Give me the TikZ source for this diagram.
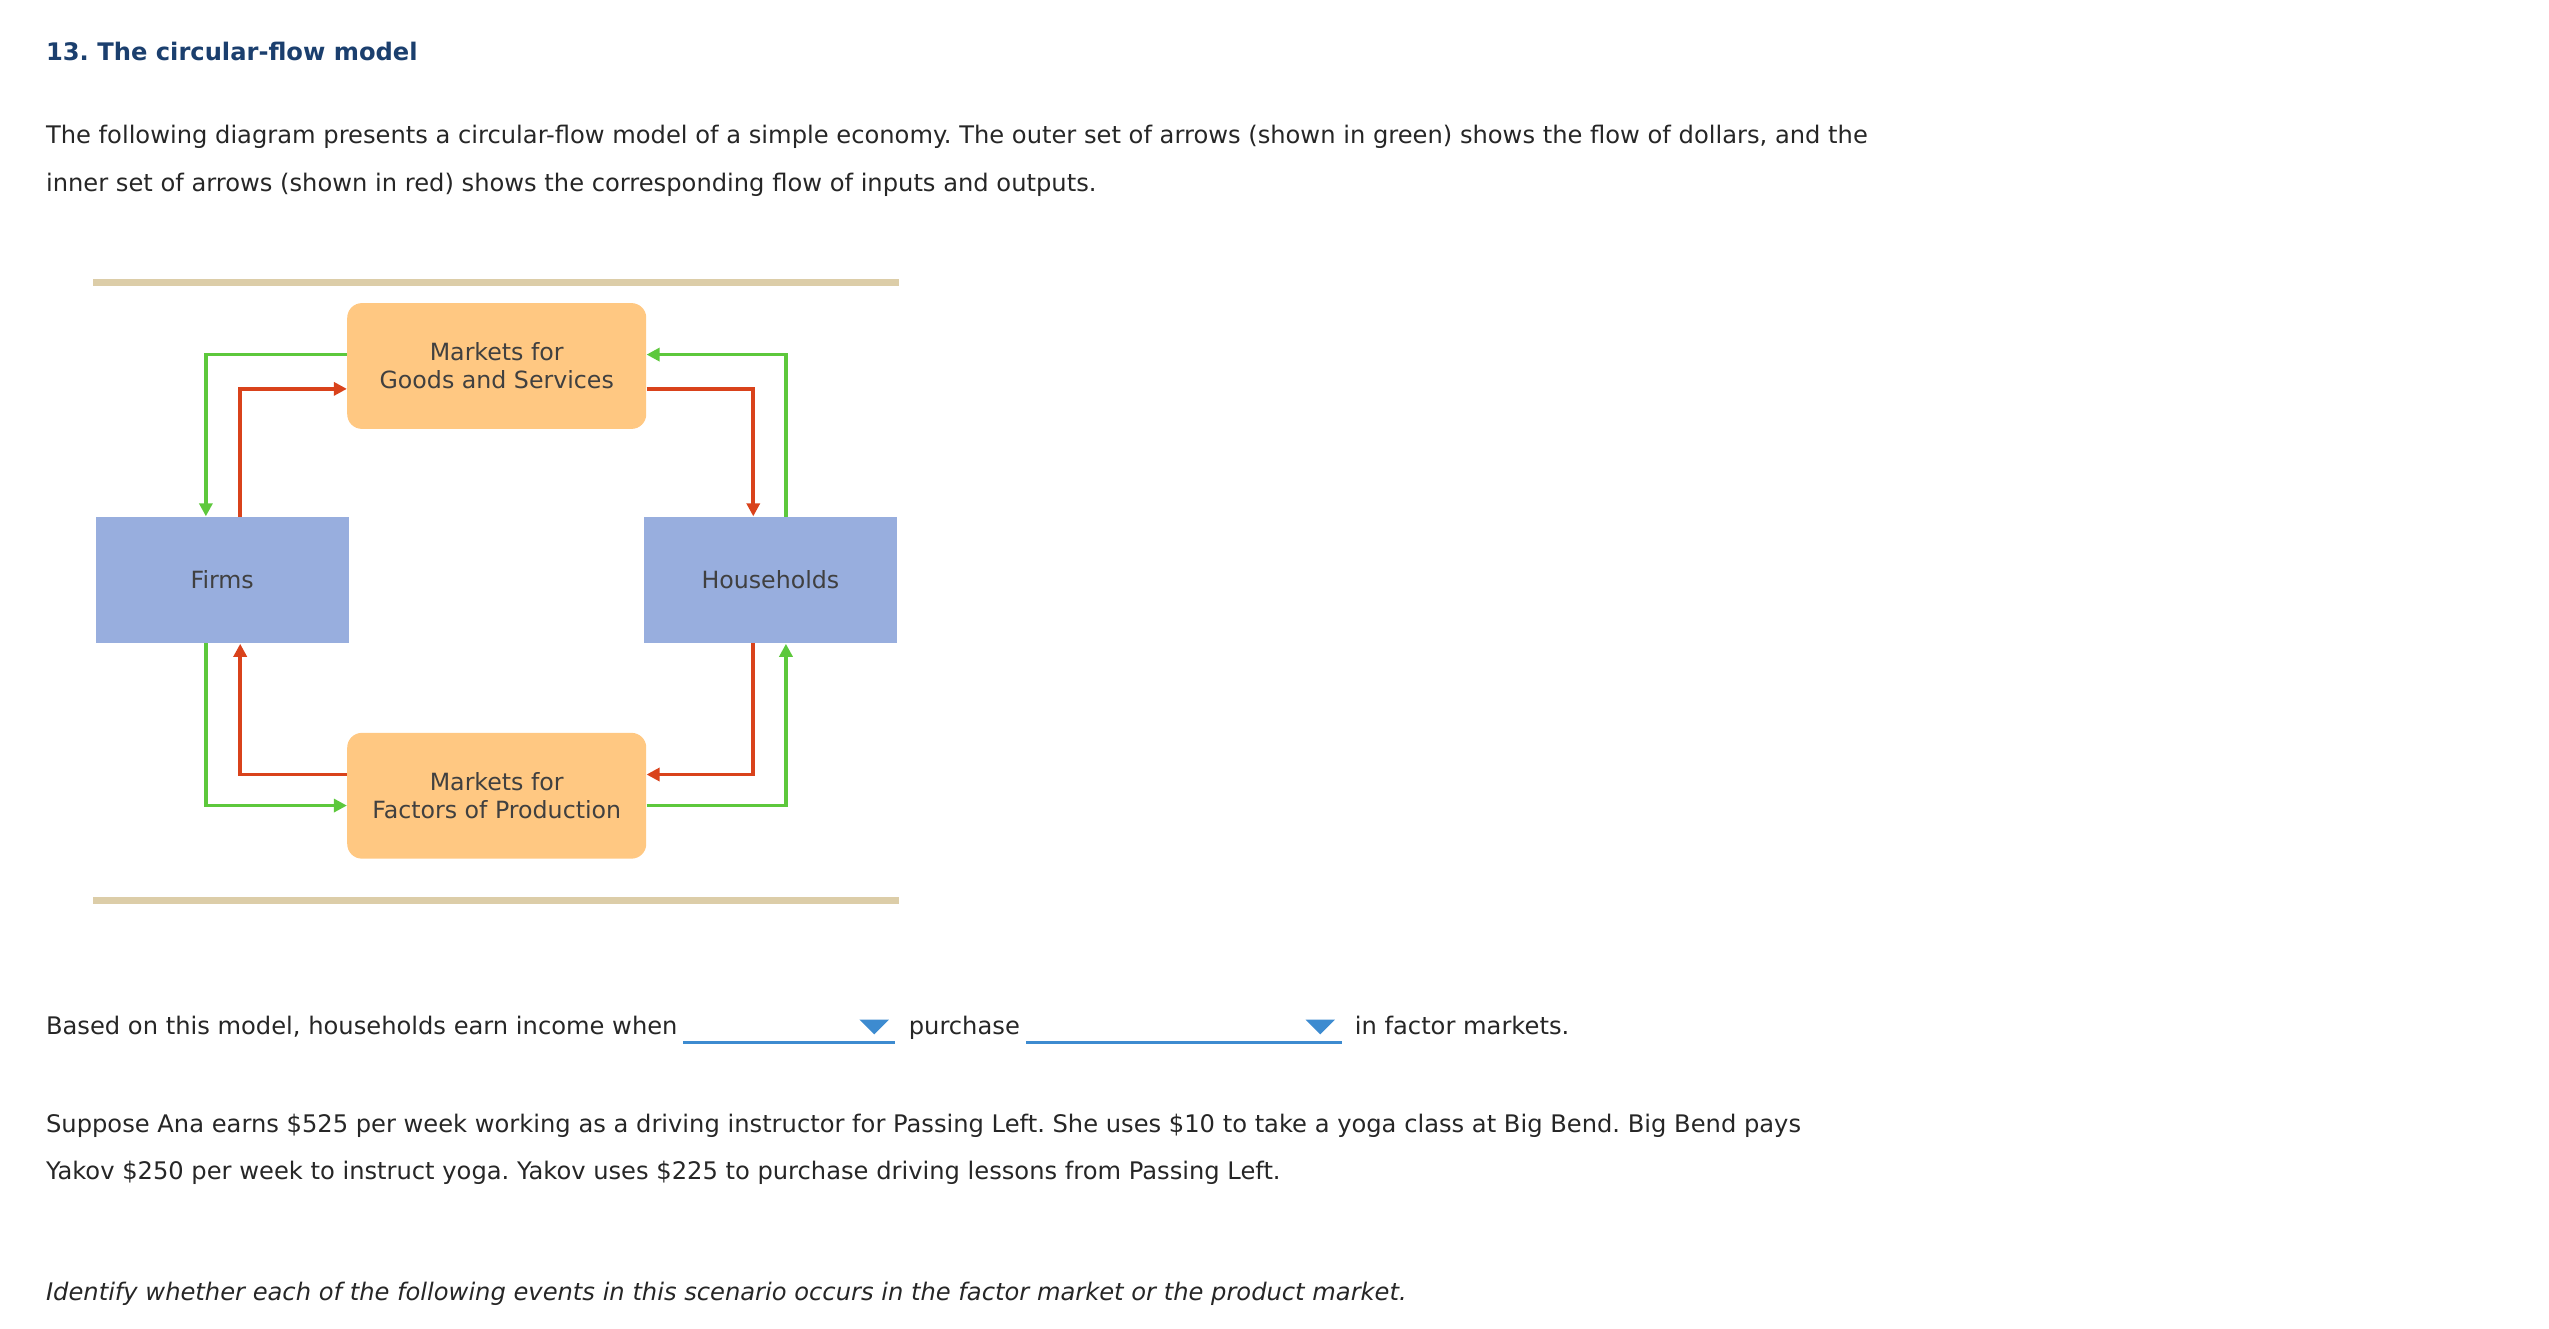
\documentclass[tikz,border=0pt]{standalone}
\usepackage{fontspec}
\setmainfont{DejaVu Sans}
\usetikzlibrary{arrows.meta}
\definecolor{gr}{HTML}{5DC83C}
\definecolor{rd}{HTML}{D9421B}
\definecolor{ob}{HTML}{FFC882}
\definecolor{bb}{HTML}{98AEDE}
\definecolor{tan}{HTML}{DCCDA8}
\definecolor{ttl}{HTML}{1B3F6E}
\definecolor{dd}{HTML}{3D8BD0}
\begin{document}
\frenchspacing
\begin{tikzpicture}[x=1pt,y=-1pt,
 txt/.style={anchor=base west,inner sep=0,font=\fontsize{14.8}{17}\selectfont,text=black!85},
 lbl/.style={font=\fontsize{14.5}{17}\selectfont,text=black!75,align=center},
 obox/.style={fill=ob,rounded corners=9pt,minimum width=183pt,minimum height=77pt,lbl},
 bbox/.style={fill=bb,minimum width=155pt,minimum height=77pt,lbl},
 ga/.style={draw=gr,line width=2.2pt,-{Triangle[length=8pt,width=8pt]}},
 ra/.style={draw=rd,line width=2.2pt,-{Triangle[length=8pt,width=8pt]}}]
\useasboundingbox (0,0) rectangle (1560,813);
\node[txt,font=\bfseries\fontsize{14.8}{17}\selectfont,text=ttl] (t) at (28,37) {13. The circular-flow model};
\node[txt] (p1) at (28,88) {The following diagram presents a circular-flow model of a simple economy. The outer set of arrows (shown in green) shows the flow of dollars, and the};
\node[txt] (p2) at (28,117) {inner set of arrows (shown in red) shows the corresponding flow of inputs and outputs.};
\draw[tan,line width=4pt] (57,173) -- (550,173);
\draw[tan,line width=4pt] (57,551) -- (550,551);
\node[obox] (g) at (304,224) {Markets for\\Goods and Services};
\node[obox] (f) at (304,487) {Markets for\\Factors of Production};
\node[bbox] (fi) at (136,355) {Firms};
\node[bbox] (h) at (471.5,355) {Households};
\draw[ga] (h.north -| 481,0) |- (g.east |- 0,217);
\draw[ga] (g.west |- 0,217) -| (126,316);
\draw[ra] (fi.north -| 147,0) |- (g.west |- 0,238);
\draw[ra] (g.east |- 0,238) -| (461,316);
\draw[ra] (h.south -| 461,0) |- (f.east |- 0,474);
\draw[ra] (f.west |- 0,474) -| (147,394);
\draw[ga] (fi.south -| 126,0) |- (f.west |- 0,493);
\draw[ga] (f.east |- 0,493) -| (481,394);
\node[txt] (q1) at (28,633) {Based on this model, households earn income when};
\draw[dd,line width=1.5pt] (418,638) -- (548,638);
\fill[dd] (526,624) -- (544,624) -- (535,633) -- cycle;
\node[txt] (q2) at (556,633) {purchase};
\draw[dd,line width=1.5pt] (628,638) -- (821,638);
\fill[dd] (799,624) -- (817,624) -- (808,633) -- cycle;
\node[txt] (q3) at (829,633) {in factor markets.};
\node[txt] (s1) at (28,693) {Suppose Ana earns \$525 per week working as a driving instructor for Passing Left. She uses \$10 to take a yoga class at Big Bend. Big Bend pays};
\node[txt] (s2) at (28,722) {Yakov \$250 per week to instruct yoga. Yakov uses \$225 to purchase driving lessons from Passing Left.};
\node[txt,font=\itshape\fontsize{14.8}{17}\selectfont] (s3) at (28,796) {Identify whether each of the following events in this scenario occurs in the factor market or the product market.};
\end{tikzpicture}
\end{document}
